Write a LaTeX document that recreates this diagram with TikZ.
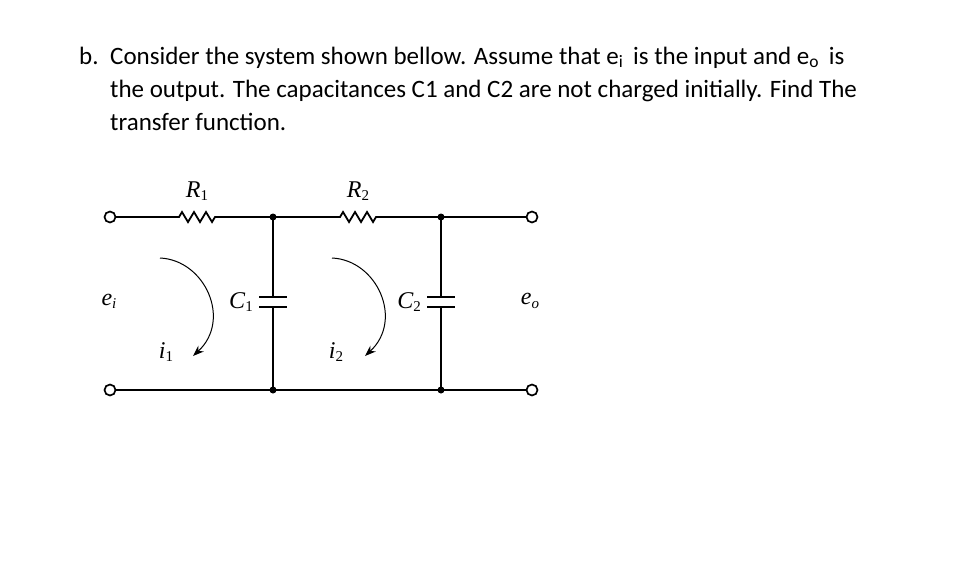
\documentclass[tikz,border=0pt]{standalone}
\usepackage{fontspec}
\setmainfont{Carlito}
\newfontfamily\circfont{Liberation Serif}
\usetikzlibrary{arrows.meta,calc}
\newcommand{\ltr}[2]{{\itshape #1}\raisebox{-0.3ex}{\fontsize{15}{15}\selectfont #2}}
\begin{document}
\begin{tikzpicture}[x=1pt,y=-1pt,
  wire/.style={line width=1.8pt},
  term/.style={circle,draw,line width=1.7pt,fill=white,minimum size=11pt,inner sep=0pt},
  dot/.style={circle,fill,minimum size=7pt,inner sep=0pt},
  lbl/.style={font=\fontsize{24}{24}\selectfont\circfont},
  txt/.style={anchor=base west,inner sep=0pt,font=\fontsize{25}{25}\selectfont},
  cur/.style={line width=1pt,-{Stealth[length=11pt,width=8pt]}}]
\useasboundingbox (0,0) rectangle (956,584);
% text
\node[txt] (b) at (79,64) {b.};
\node[txt] (l1) at (110,64) {Consider the system shown bellow. Assume that e\textsubscript{i}\, is the input and e\textsubscript{o}\, is};
\node[txt] (l2) at (110,97) {the output. The capacitances C1 and C2 are not charged initially. Find The};
\node[txt] (l3) at (110,130) {transfer function.};
% nodes
\coordinate (tl) at (110,217);
\coordinate (bl) at (110,390);
\coordinate (tr) at (532,217);
\coordinate (br) at (532,390);
\coordinate (n1) at (273,217);
\coordinate (n2) at (441,217);
\coordinate (m1) at (273,390);
\coordinate (m2) at (441,390);
\coordinate (r1a) at (176,217);
\coordinate (r1b) at (217,217);
\coordinate (r2a) at (337,217);
\coordinate (r2b) at (379,217);
% wires
\draw[wire] (tl) -- (r1a);
\draw[wire] (r1a) -- ++(3,0) -- ++(3,-5) -- ++(6,10) -- ++(6,-10) -- ++(6,10) -- ++(6,-10) -- ++(6,10) -- ++(3,-5) -- (r1b);
\draw[wire] (r1b) -- (r2a);
\draw[wire] (r2a) -- ++(3,0) -- ++(3,-5) -- ++(6,10) -- ++(6,-10) -- ++(6,10) -- ++(6,-10) -- ++(6,10) -- ++(3,-5) -- (r2b);
\draw[wire] (r2b) -- (tr);
\draw[wire] (bl) -- (br);
\foreach \n/\m in {n1/m1,n2/m2}{
  \draw[wire] (\n) -- ($(\n)+(0,80)$);
  \draw[wire] ($(\m)+(0,-83)$) -- (\m);
  \draw[wire] ($(\n)+(-14,80)$) -- ($(\n)+(14,80)$);
  \draw[wire] ($(\m)+(-14,-83)$) -- ($(\m)+(14,-83)$);
}
\node[dot] (d1) at (n1) {};
\node[dot] (d2) at (n2) {};
\node[dot] (d3) at (m1) {};
\node[dot] (d4) at (m2) {};
\node[term] (T1) at (tl) {};
\node[term] (T2) at (bl) {};
\node[term] (T3) at (tr) {};
\node[term] (T4) at (br) {};
% labels
\node[lbl] (R1) at (197,191) {\ltr{R}{1}};
\node[lbl] (R2) at (358,191) {\ltr{R}{2}};
\node[lbl] (C1) at (241,302) {\ltr{C}{1}};
\node[lbl] (C2) at (409,302) {\ltr{C}{2}};
\node[lbl] (ei) at (109,301) {\ltr{e}{\itshape i}};
\node[lbl] (eo) at (530,301) {\ltr{e}{\itshape o}};
\node[lbl] (i1) at (166,352) {\ltr{i}{1}};
\node[lbl] (i2) at (336,352) {\ltr{i}{2}};
\coordinate (a1s) at (160,258);
\coordinate (a1e) at (193,356);
\coordinate (a2s) at (332,258);
\coordinate (a2e) at (365,356);
\draw[cur] (a1s) .. controls (205,260) and (232,320) .. (a1e);
\draw[cur] (a2s) .. controls (377,260) and (404,320) .. (a2e);
\end{tikzpicture}
\end{document}
